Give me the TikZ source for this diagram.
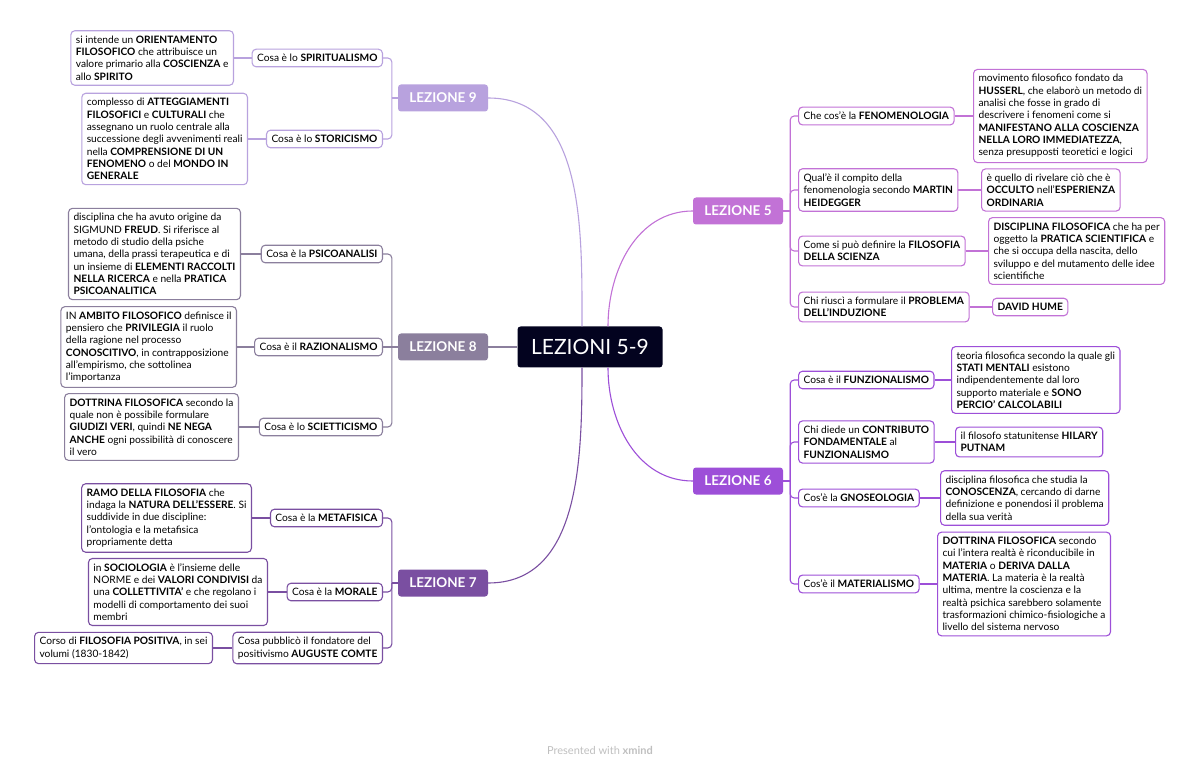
\documentclass[tikz,border=0pt]{standalone}
\usepackage{fontspec}
\setmainfont{Lato}

\definecolor{rootnavy}{HTML}{03031F}
\definecolor{c9}{HTML}{B8A2DE}
\definecolor{c8}{HTML}{8B7F9D}
\definecolor{c7}{HTML}{7A4FA1}
\definecolor{c5}{HTML}{C272D6}
\definecolor{c6}{HTML}{9D4FD8}

\tikzset{
  root/.style={fill=rootnavy, text=white, rounded corners=3pt, minimum width=145pt,
    minimum height=41pt, font=\fontsize{21}{24}\selectfont},
  lesson/.style={fill=#1, text=white, rounded corners=3pt, minimum width=90pt,
    minimum height=27pt, font=\fontsize{13.5}{15}\selectfont\bfseries},
  topic/.style={draw=#1, line width=1.1pt, fill=white, rounded corners=4pt, align=left,
    inner xsep=5pt, inner ysep=5pt, font=\fontsize{10.2}{12.3}\selectfont},
  branch/.style={draw=#1, line width=1.1pt},
  link/.style={draw=#1, line width=1.1pt, rounded corners=4pt},
}

\begin{document}
\begin{tikzpicture}[x=1pt,y=-1pt]
    \useasboundingbox (0,0) rectangle (1200,767);

    % centro e lezioni
    \node[root] (root) at (590,347) {LEZIONI 5-9};
    \node[lesson=c9] (L9) at (443,98) {LEZIONE 9};
    \node[lesson=c8] (L8) at (443,347) {LEZIONE 8};
    \node[lesson=c7] (L7) at (443,583) {LEZIONE 7};
    \node[lesson=c5] (L5) at (738,211) {LEZIONE 5};
    \node[lesson=c6] (L6) at (738,481) {LEZIONE 6};

    \draw[branch=c9] ([xshift=-8pt]root.north) to[out=90,in=0] (L9.east);
    \draw[branch=c8] (root.west) -- (L8.east);
    \draw[branch=c7] ([xshift=-8pt]root.south) to[out=-90,in=0] (L7.east);
    \draw[branch=c5] ([xshift=18pt]root.north) to[out=90,in=180] (L5.west);
    \draw[branch=c6] ([xshift=18pt]root.south) to[out=-90,in=180] (L6.west);

    % lezione 9
    \node[topic=c9, anchor=east] (q91) at (383,58) {Cosa è lo \textbf{SPIRITUALISMO}};
    \node[topic=c9, anchor=east] (q92) at (383,139) {Cosa è lo \textbf{STORICISMO}};
    \node[topic=c9, anchor=east] (a91) at (234,58) {si intende un \textbf{ORIENTAMENTO}\\ \textbf{FILOSOFICO} che attribuisce un\\ valore primario alla \textbf{COSCIENZA} e\\ allo \textbf{SPIRITO}};
    \node[topic=c9, anchor=east] (a92) at (248,139) {complesso di \textbf{ATTEGGIAMENTI}\\ \textbf{FILOSOFICI} e \textbf{CULTURALI} che\\ assegnano un ruolo centrale alla\\ successione degli avvenimenti reali\\ nella \textbf{COMPRENSIONE DI UN}\\ \textbf{FENOMENO} o del \textbf{MONDO IN}\\ \textbf{GENERALE}};
    \coordinate (t9) at ([xshift=-6pt]L9.west);
    \draw[branch=c9] (L9.west) -- (t9);
    \draw[link=c9] (t9) |- (q91.east);
    \draw[link=c9] (t9) |- (q92.east);
    \draw[branch=c9] (a91.east) -- (q91.west);
    \draw[branch=c9] (a92.east) -- (q92.west);

    % lezione 8
    \node[topic=c8, anchor=east] (q81) at (383,254) {Cosa è la \textbf{PSICOANALISI}};
    \node[topic=c8, anchor=east] (q82) at (383,347) {Cosa è il \textbf{RAZIONALISMO}};
    \node[topic=c8, anchor=east] (q83) at (383,427) {Cosa è lo \textbf{SCIETTICISMO}};
    \node[topic=c8, anchor=east] (a81) at (241,254) {disciplina che ha avuto origine da\\ SIGMUND \textbf{FREUD}. Si riferisce al\\ metodo di studio della psiche\\ umana, della prassi terapeutica e di\\ un insieme di \textbf{ELEMENTI RACCOLTI}\\ \textbf{NELLA RICERCA} e nella \textbf{PRATICA}\\ \textbf{PSICOANALITICA}};
    \node[topic=c8, anchor=east] (a82) at (237,347) {IN \textbf{AMBITO FILOSOFICO} definisce il\\ pensiero che \textbf{PRIVILEGIA} il ruolo\\ della ragione nel processo\\ \textbf{CONOSCITIVO}, in contrapposizione\\ all'empirismo, che sottolinea\\ l'importanza};
    \node[topic=c8, anchor=east] (a83) at (239,427) {\textbf{DOTTRINA FILOSOFICA} secondo la\\ quale non è possibile formulare\\ \textbf{GIUDIZI VERI}, quindi \textbf{NE NEGA}\\ \textbf{ANCHE} ogni possibilità di conoscere\\ il vero};
    \coordinate (t8) at ([xshift=-6pt]L8.west);
    \draw[branch=c8] (L8.west) -- (t8);
    \draw[link=c8] (t8) |- (q81.east);
    \draw[branch=c8] (t8) -- (q82.east);
    \draw[link=c8] (t8) |- (q83.east);
    \draw[branch=c8] (a81.east) -- (q81.west);
    \draw[branch=c8] (a82.east) -- (q82.west);
    \draw[branch=c8] (a83.east) -- (q83.west);

    % lezione 7
    \node[topic=c7, anchor=east] (q71) at (383,518) {Cosa è la \textbf{METAFISICA}};
    \node[topic=c7, anchor=east] (q72) at (383,592) {Cosa è la \textbf{MORALE}};
    \node[topic=c7, anchor=east] (q73) at (383,648) {Cosa pubblicò il fondatore del\\ positivismo \textbf{AUGUSTE COMTE}};
    \node[topic=c7, anchor=east] (a71) at (252,518) {\textbf{RAMO DELLA FILOSOFIA} che\\ indaga la \textbf{NATURA DELL'ESSERE}. Si\\ suddivide in due discipline:\\ l'ontologia e la metafisica\\ propriamente detta};
    \node[topic=c7, anchor=east] (a72) at (268,592) {in \textbf{SOCIOLOGIA} è l'insieme delle\\ NORME e dei \textbf{VALORI CONDIVISI} da\\ una \textbf{COLLETTIVITA'} e che regolano i\\ modelli di comportamento dei suoi\\ membri};
    \node[topic=c7, anchor=east] (a73) at (213,648) {Corso di \textbf{FILOSOFIA POSITIVA}, in sei\\ volumi (1830-1842)};
    \coordinate (t7) at ([xshift=-6pt]L7.west);
    \draw[branch=c7] (L7.west) -- (t7);
    \draw[link=c7] (t7) |- (q71.east);
    \draw[link=c7] (t7) |- (q72.east);
    \draw[link=c7] (t7) |- (q73.east);
    \draw[branch=c7] (a71.east) -- (q71.west);
    \draw[branch=c7] (a72.east) -- (q72.west);
    \draw[branch=c7] (a73.east) -- (q73.west);

    % lezione 5
    \node[topic=c5, anchor=west] (q51) at (798,116) {Che cos'è la \textbf{FENOMENOLOGIA}};
    \node[topic=c5, anchor=west] (q52) at (798,190) {Qual'è il compito della\\ fenomenologia secondo \textbf{MARTIN}\\ \textbf{HEIDEGGER}};
    \node[topic=c5, anchor=west] (q53) at (798,251) {Come si può definire la \textbf{FILOSOFIA}\\ \textbf{DELLA SCIENZA}};
    \node[topic=c5, anchor=west] (q54) at (798,307) {Chi riuscì a formulare il \textbf{PROBLEMA}\\ \textbf{DELL'INDUZIONE}};
    \node[topic=c5, anchor=west] (a51) at (973,116) {movimento filosofico fondato da\\ \textbf{HUSSERL}, che elaborò un metodo di\\ analisi che fosse in grado di\\ descrivere i fenomeni come si\\ \textbf{MANIFESTANO ALLA COSCIENZA}\\ \textbf{NELLA LORO IMMEDIATEZZA},\\ senza presupposti teoretici e logici};
    \node[topic=c5, anchor=west] (a52) at (981,190) {è quello di rivelare ciò che è\\ \textbf{OCCULTO} nell'\textbf{ESPERIENZA}\\ \textbf{ORDINARIA}};
    \node[topic=c5, anchor=west] (a53) at (988,251) {\textbf{DISCIPLINA FILOSOFICA} che ha per\\ oggetto la \textbf{PRATICA SCIENTIFICA} e\\ che si occupa della nascita, dello\\ sviluppo e del mutamento delle idee\\ scientifiche};
    \node[topic=c5, anchor=west] (a54) at (992,307) {\textbf{DAVID HUME}};
    \coordinate (t5) at ([xshift=7pt]L5.east);
    \draw[branch=c5] (L5.east) -- (t5);
    \foreach \i in {1,...,4} {
        \draw[link=c5] (t5) |- (q5\i.west);
        \draw[branch=c5] (q5\i.east) -- (a5\i.west);
    }

    % lezione 6
    \node[topic=c6, anchor=west] (q61) at (798,380) {Cosa è il \textbf{FUNZIONALISMO}};
    \node[topic=c6, anchor=west] (q62) at (798,442) {Chi diede un \textbf{CONTRIBUTO}\\ \textbf{FONDAMENTALE} al\\ \textbf{FUNZIONALISMO}};
    \node[topic=c6, anchor=west] (q63) at (798,498) {Cos'è la \textbf{GNOSEOLOGIA}};
    \node[topic=c6, anchor=west] (q64) at (798,584) {Cos'è il \textbf{MATERIALISMO}};
    \node[topic=c6, anchor=west] (a61) at (951,380) {teoria filosofica secondo la quale gli\\ \textbf{STATI MENTALI} esistono\\ indipendentemente dal loro\\ supporto materiale e \textbf{SONO}\\ \textbf{PERCIO' CALCOLABILI}};
    \node[topic=c6, anchor=west] (a62) at (955,442) {il filosofo statunitense \textbf{HILARY}\\ \textbf{PUTNAM}};
    \node[topic=c6, anchor=west] (a63) at (940,498) {disciplina filosofica che studia la\\ \textbf{CONOSCENZA}, cercando di darne\\ definizione e ponendosi il problema\\ della sua verità};
    \node[topic=c6, anchor=west] (a64) at (937,584) {\textbf{DOTTRINA FILOSOFICA} secondo\\ cui l'intera realtà è riconducibile in\\ \textbf{MATERIA} o \textbf{DERIVA DALLA}\\ \textbf{MATERIA}. La materia è la realtà\\ ultima, mentre la coscienza e la\\ realtà psichica sarebbero solamente\\ trasformazioni chimico-fisiologiche a\\ livello del sistema nervoso};
    \coordinate (t6) at ([xshift=7pt]L6.east);
    \draw[branch=c6] (L6.east) -- (t6);
    \foreach \i in {1,...,4} {
        \draw[link=c6] (t6) |- (q6\i.west);
        \draw[branch=c6] (q6\i.east) -- (a6\i.west);
    }

    % firma
    \node[text=black!25, font=\fontsize{11}{13}\selectfont] (credit) at (600,750) {Presented with \textbf{xmind}};
\end{tikzpicture}
\end{document}
